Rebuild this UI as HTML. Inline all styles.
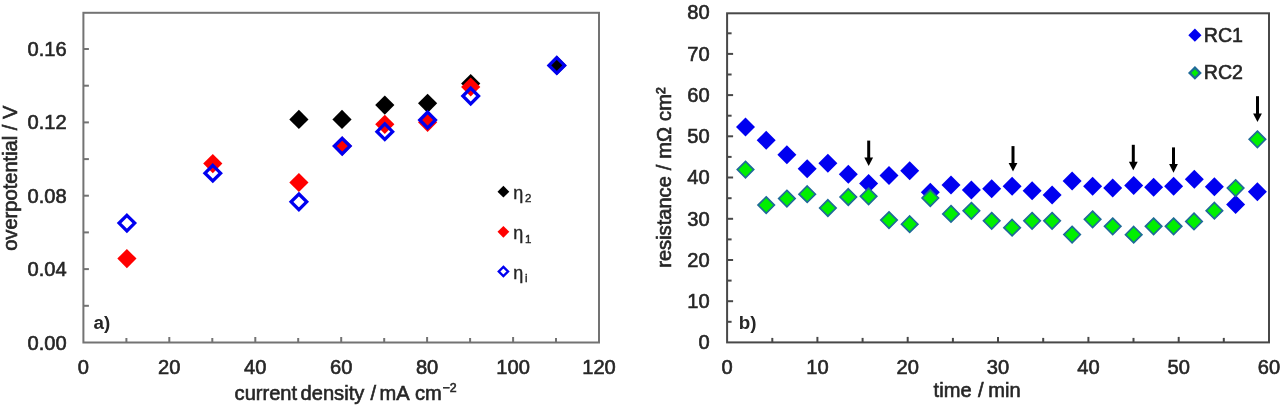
<!DOCTYPE html>
<html lang="en"><head><meta charset="utf-8"><title>Figure</title>
<style>html,body{margin:0;padding:0;background:#fff}svg{display:block;filter:blur(0.45px)}</style></head>
<body>
<svg width="1280" height="406" viewBox="0 0 1280 406" font-family='"Liberation Sans", Arial, Helvetica, sans-serif'>
<rect width="1280" height="406" fill="#fff"/>
<g stroke="#737373" stroke-width="2" fill="none">
<rect x="83.4" y="12.8" width="515.6" height="329.7"/>
<line x1="83.4" y1="305.8" x2="88.9" y2="305.8"/>
<line x1="83.4" y1="269.1" x2="88.9" y2="269.1"/>
<line x1="83.4" y1="232.4" x2="88.9" y2="232.4"/>
<line x1="83.4" y1="195.7" x2="88.9" y2="195.7"/>
<line x1="83.4" y1="159.1" x2="88.9" y2="159.1"/>
<line x1="83.4" y1="122.4" x2="88.9" y2="122.4"/>
<line x1="83.4" y1="85.7" x2="88.9" y2="85.7"/>
<line x1="83.4" y1="49.0" x2="88.9" y2="49.0"/>
<line x1="126.4" y1="342.5" x2="126.4" y2="338.0"/>
<line x1="169.3" y1="342.5" x2="169.3" y2="337.0"/>
<line x1="212.3" y1="342.5" x2="212.3" y2="338.0"/>
<line x1="255.3" y1="342.5" x2="255.3" y2="337.0"/>
<line x1="298.2" y1="342.5" x2="298.2" y2="338.0"/>
<line x1="341.2" y1="342.5" x2="341.2" y2="337.0"/>
<line x1="384.2" y1="342.5" x2="384.2" y2="338.0"/>
<line x1="427.1" y1="342.5" x2="427.1" y2="337.0"/>
<line x1="470.1" y1="342.5" x2="470.1" y2="338.0"/>
<line x1="513.1" y1="342.5" x2="513.1" y2="337.0"/>
<line x1="556.0" y1="342.5" x2="556.0" y2="338.0"/>
</g>
<g fill="#262626" stroke="#262626" stroke-width="0.6" font-size="20.1">
<text x="66.6" y="349.5" text-anchor="end">0.00</text>
<text x="66.6" y="276.1" text-anchor="end">0.04</text>
<text x="66.6" y="202.7" text-anchor="end">0.08</text>
<text x="66.6" y="129.4" text-anchor="end">0.12</text>
<text x="66.6" y="56.0" text-anchor="end">0.16</text>
<text x="83.4" y="374.2" text-anchor="middle">0</text>
<text x="169.3" y="374.2" text-anchor="middle">20</text>
<text x="255.3" y="374.2" text-anchor="middle">40</text>
<text x="341.2" y="374.2" text-anchor="middle">60</text>
<text x="427.1" y="374.2" text-anchor="middle">80</text>
<text x="513.1" y="374.2" text-anchor="middle">100</text>
<text x="599.0" y="374.2" text-anchor="middle">120</text>
<text y="399.6"><tspan x="234.6">current</tspan> <tspan x="300.6">density</tspan> <tspan x="370.6">/</tspan> <tspan x="379.6">mA</tspan> <tspan x="415">cm</tspan><tspan x="442.6" font-size="12.3" dy="-7.5">−2</tspan></text>
<text transform="translate(17.3,178.2) rotate(-90)" text-anchor="middle">overpotential / V</text>
<text x="93.5" y="329" font-weight="bold" font-size="18.8" stroke="none">a)</text>
</g>
<polygon points="298.9,109.8 308.5,119.4 298.9,129.0 289.3,119.4" fill="#000"/>
<polygon points="342.0,109.8 351.6,119.4 342.0,129.0 332.4,119.4" fill="#000"/>
<polygon points="384.8,95.5 394.4,105.1 384.8,114.7 375.2,105.1" fill="#000"/>
<polygon points="427.6,93.7 437.2,103.3 427.6,112.9 418.0,103.3" fill="#000"/>
<polygon points="470.7,74.0 480.3,83.6 470.7,93.2 461.1,83.6" fill="#000"/>
<polygon points="556.8,55.8 566.4,65.4 556.8,75.0 547.2,65.4" fill="#000"/>
<polygon points="126.9,249.0 136.5,258.6 126.9,268.2 117.3,258.6" fill="#f00"/>
<polygon points="212.8,154.0 222.4,163.6 212.8,173.2 203.2,163.6" fill="#f00"/>
<polygon points="298.9,172.9 308.5,182.5 298.9,192.1 289.3,182.5" fill="#f00"/>
<polygon points="342.2,136.5 351.8,146.1 342.2,155.7 332.6,146.1" fill="#f00"/>
<polygon points="384.8,114.7 394.4,124.3 384.8,133.9 375.2,124.3" fill="#f00"/>
<polygon points="427.6,112.7 437.2,122.3 427.6,131.9 418.0,122.3" fill="#f00"/>
<polygon points="470.7,77.4 480.3,87.0 470.7,96.6 461.1,87.0" fill="#f00"/>
<polygon points="126.9,215.3 134.7,223.1 126.9,230.9 119.1,223.1" fill="none" stroke="#0000f0" stroke-width="3.3"/>
<polygon points="212.8,165.4 220.6,173.2 212.8,181.0 205.0,173.2" fill="none" stroke="#0000f0" stroke-width="3.3"/>
<polygon points="298.9,194.0 306.7,201.8 298.9,209.6 291.1,201.8" fill="none" stroke="#0000f0" stroke-width="3.3"/>
<polygon points="342.2,138.3 350.0,146.1 342.2,153.9 334.4,146.1" fill="none" stroke="#0000f0" stroke-width="3.3"/>
<polygon points="384.8,123.9 392.6,131.7 384.8,139.5 377.0,131.7" fill="none" stroke="#0000f0" stroke-width="3.3"/>
<polygon points="427.6,112.2 435.4,120.0 427.6,127.8 419.8,120.0" fill="none" stroke="#0000f0" stroke-width="3.3"/>
<polygon points="470.7,88.2 478.5,96.0 470.7,103.8 462.9,96.0" fill="none" stroke="#0000f0" stroke-width="3.3"/>
<polygon points="556.8,57.6 564.6,65.4 556.8,73.2 549.0,65.4" fill="none" stroke="#0000f0" stroke-width="3.3"/>
<polygon points="503.4,185.8 509.3,191.7 503.4,197.6 497.5,191.7" fill="#000"/>
<polygon points="503.4,225.9 509.3,231.8 503.4,237.7 497.5,231.8" fill="#f00"/>
<polygon points="503.4,266.9 508.0,271.5 503.4,276.1 498.8,271.5" fill="none" stroke="#0000f0" stroke-width="2.4"/>
<g fill="#262626" stroke="#262626" stroke-width="0.4" font-size="18">
<text x="513.2" y="199.1">η<tspan x="525" font-size="11.5" dy="3.3">2</tspan></text>
<text x="513.2" y="239.3">η<tspan x="525" font-size="11.5" dy="3.3">1</tspan></text>
<text x="513.2" y="279.0">η<tspan x="525" font-size="11.5" dy="3.3">i</tspan></text>
</g>
<g stroke="#484848" stroke-width="2" fill="none">
<rect x="727.1" y="13.3" width="541.9" height="329.1"/>
<line x1="727.1" y1="321.8" x2="731.6" y2="321.8"/>
<line x1="727.1" y1="301.2" x2="733.1" y2="301.2"/>
<line x1="727.1" y1="280.6" x2="731.6" y2="280.6"/>
<line x1="727.1" y1="260.0" x2="733.1" y2="260.0"/>
<line x1="727.1" y1="239.4" x2="731.6" y2="239.4"/>
<line x1="727.1" y1="218.8" x2="733.1" y2="218.8"/>
<line x1="727.1" y1="198.2" x2="731.6" y2="198.2"/>
<line x1="727.1" y1="177.5" x2="733.1" y2="177.5"/>
<line x1="727.1" y1="156.9" x2="731.6" y2="156.9"/>
<line x1="727.1" y1="136.3" x2="733.1" y2="136.3"/>
<line x1="727.1" y1="115.7" x2="731.6" y2="115.7"/>
<line x1="727.1" y1="95.1" x2="733.1" y2="95.1"/>
<line x1="727.1" y1="74.5" x2="731.6" y2="74.5"/>
<line x1="727.1" y1="53.9" x2="733.1" y2="53.9"/>
<line x1="727.1" y1="33.3" x2="731.6" y2="33.3"/>
<line x1="772.3" y1="342.4" x2="772.3" y2="337.9"/>
<line x1="817.4" y1="342.4" x2="817.4" y2="336.9"/>
<line x1="862.6" y1="342.4" x2="862.6" y2="337.9"/>
<line x1="907.7" y1="342.4" x2="907.7" y2="336.9"/>
<line x1="952.9" y1="342.4" x2="952.9" y2="337.9"/>
<line x1="998.0" y1="342.4" x2="998.0" y2="336.9"/>
<line x1="1043.2" y1="342.4" x2="1043.2" y2="337.9"/>
<line x1="1088.4" y1="342.4" x2="1088.4" y2="336.9"/>
<line x1="1133.5" y1="342.4" x2="1133.5" y2="337.9"/>
<line x1="1178.7" y1="342.4" x2="1178.7" y2="336.9"/>
<line x1="1223.8" y1="342.4" x2="1223.8" y2="337.9"/>
</g>
<g fill="#262626" stroke="#262626" stroke-width="0.6" font-size="20.1">
<text x="709.6" y="349.1" text-anchor="end">0</text>
<text x="709.6" y="307.9" text-anchor="end">10</text>
<text x="709.6" y="266.7" text-anchor="end">20</text>
<text x="709.6" y="225.5" text-anchor="end">30</text>
<text x="709.6" y="184.2" text-anchor="end">40</text>
<text x="709.6" y="143.0" text-anchor="end">50</text>
<text x="709.6" y="101.8" text-anchor="end">60</text>
<text x="709.6" y="60.6" text-anchor="end">70</text>
<text x="709.6" y="19.4" text-anchor="end">80</text>
<text x="727.1" y="374.2" text-anchor="middle">0</text>
<text x="817.4" y="374.2" text-anchor="middle">10</text>
<text x="907.7" y="374.2" text-anchor="middle">20</text>
<text x="998.0" y="374.2" text-anchor="middle">30</text>
<text x="1088.4" y="374.2" text-anchor="middle">40</text>
<text x="1178.7" y="374.2" text-anchor="middle">50</text>
<text x="1269.0" y="374.2" text-anchor="middle">60</text>
<text y="397.3"><tspan x="933.6">time</tspan> <tspan x="978">/</tspan> <tspan x="988.2">min</tspan></text>
<text transform="translate(670.8,177.6) rotate(-90)" text-anchor="middle" word-spacing="0.4">resistance / mΩ cm²</text>
<text x="738.7" y="329" font-weight="bold" font-size="18.8" stroke="none">b)</text>
<text x="1203.8" y="41.6" font-size="19.6">RC1</text>
<text x="1203.8" y="79.4" font-size="19.6">RC2</text>
</g>
<polygon points="745.5,117.4 755.0,126.9 745.5,136.4 736.0,126.9" fill="#0000f0"/>
<polygon points="766.2,130.8 775.7,140.3 766.2,149.8 756.7,140.3" fill="#0000f0"/>
<polygon points="786.9,145.3 796.4,154.8 786.9,164.3 777.4,154.8" fill="#0000f0"/>
<polygon points="807.2,159.2 816.7,168.7 807.2,178.2 797.7,168.7" fill="#0000f0"/>
<polygon points="827.9,153.7 837.4,163.2 827.9,172.7 818.4,163.2" fill="#0000f0"/>
<polygon points="848.3,164.7 857.8,174.2 848.3,183.7 838.8,174.2" fill="#0000f0"/>
<polygon points="868.6,174.1 878.1,183.6 868.6,193.1 859.1,183.6" fill="#0000f0"/>
<polygon points="889.0,166.1 898.5,175.6 889.0,185.1 879.5,175.6" fill="#0000f0"/>
<polygon points="909.7,161.3 919.2,170.8 909.7,180.3 900.2,170.8" fill="#0000f0"/>
<polygon points="930.3,182.7 939.8,192.2 930.3,201.7 920.8,192.2" fill="#0000f0"/>
<polygon points="951.0,175.4 960.5,184.9 951.0,194.4 941.5,184.9" fill="#0000f0"/>
<polygon points="971.4,180.6 980.9,190.1 971.4,199.6 961.9,190.1" fill="#0000f0"/>
<polygon points="991.7,179.2 1001.2,188.7 991.7,198.2 982.2,188.7" fill="#0000f0"/>
<polygon points="1012.1,176.8 1021.6,186.3 1012.1,195.8 1002.6,186.3" fill="#0000f0"/>
<polygon points="1032.1,181.3 1041.6,190.8 1032.1,200.3 1022.6,190.8" fill="#0000f0"/>
<polygon points="1052.1,185.4 1061.6,194.9 1052.1,204.4 1042.6,194.9" fill="#0000f0"/>
<polygon points="1072.1,171.6 1081.6,181.1 1072.1,190.6 1062.6,181.1" fill="#0000f0"/>
<polygon points="1092.6,176.8 1102.1,186.3 1092.6,195.8 1083.1,186.3" fill="#0000f0"/>
<polygon points="1112.7,178.6 1122.2,188.1 1112.7,197.6 1103.2,188.1" fill="#0000f0"/>
<polygon points="1133.7,176.0 1143.2,185.5 1133.7,195.0 1124.2,185.5" fill="#0000f0"/>
<polygon points="1153.6,177.7 1163.1,187.2 1153.6,196.7 1144.1,187.2" fill="#0000f0"/>
<polygon points="1173.6,176.8 1183.1,186.3 1173.6,195.8 1164.1,186.3" fill="#0000f0"/>
<polygon points="1194.3,169.7 1203.8,179.2 1194.3,188.7 1184.8,179.2" fill="#0000f0"/>
<polygon points="1214.4,177.2 1223.9,186.7 1214.4,196.2 1204.9,186.7" fill="#0000f0"/>
<polygon points="1235.6,194.9 1245.1,204.4 1235.6,213.9 1226.1,204.4" fill="#0000f0"/>
<polygon points="1257.4,182.3 1266.9,191.8 1257.4,201.3 1247.9,191.8" fill="#0000f0"/>
<polygon points="745.5,161.4 753.7,169.6 745.5,177.8 737.3,169.6" fill="#00f000" stroke="#1f6a98" stroke-width="1.7"/>
<polygon points="766.2,196.9 774.4,205.1 766.2,213.3 758.0,205.1" fill="#00f000" stroke="#1f6a98" stroke-width="1.7"/>
<polygon points="786.9,190.4 795.1,198.6 786.9,206.8 778.7,198.6" fill="#00f000" stroke="#1f6a98" stroke-width="1.7"/>
<polygon points="807.2,186.0 815.4,194.2 807.2,202.4 799.0,194.2" fill="#00f000" stroke="#1f6a98" stroke-width="1.7"/>
<polygon points="827.9,199.8 836.1,208.0 827.9,216.2 819.7,208.0" fill="#00f000" stroke="#1f6a98" stroke-width="1.7"/>
<polygon points="848.3,188.8 856.5,197.0 848.3,205.2 840.1,197.0" fill="#00f000" stroke="#1f6a98" stroke-width="1.7"/>
<polygon points="868.6,188.1 876.8,196.3 868.6,204.5 860.4,196.3" fill="#00f000" stroke="#1f6a98" stroke-width="1.7"/>
<polygon points="889.0,211.9 897.2,220.1 889.0,228.3 880.8,220.1" fill="#00f000" stroke="#1f6a98" stroke-width="1.7"/>
<polygon points="909.7,216.0 917.9,224.2 909.7,232.4 901.5,224.2" fill="#00f000" stroke="#1f6a98" stroke-width="1.7"/>
<polygon points="930.3,189.8 938.5,198.0 930.3,206.2 922.1,198.0" fill="#00f000" stroke="#1f6a98" stroke-width="1.7"/>
<polygon points="951.0,205.7 959.2,213.9 951.0,222.1 942.8,213.9" fill="#00f000" stroke="#1f6a98" stroke-width="1.7"/>
<polygon points="971.4,202.6 979.6,210.8 971.4,219.0 963.2,210.8" fill="#00f000" stroke="#1f6a98" stroke-width="1.7"/>
<polygon points="991.7,212.6 999.9,220.8 991.7,229.0 983.5,220.8" fill="#00f000" stroke="#1f6a98" stroke-width="1.7"/>
<polygon points="1012.1,219.5 1020.3,227.7 1012.1,235.9 1003.9,227.7" fill="#00f000" stroke="#1f6a98" stroke-width="1.7"/>
<polygon points="1032.1,212.6 1040.3,220.8 1032.1,229.0 1023.9,220.8" fill="#00f000" stroke="#1f6a98" stroke-width="1.7"/>
<polygon points="1052.1,212.6 1060.3,220.8 1052.1,229.0 1043.9,220.8" fill="#00f000" stroke="#1f6a98" stroke-width="1.7"/>
<polygon points="1072.1,226.4 1080.3,234.6 1072.1,242.8 1063.9,234.6" fill="#00f000" stroke="#1f6a98" stroke-width="1.7"/>
<polygon points="1092.6,211.1 1100.8,219.3 1092.6,227.5 1084.4,219.3" fill="#00f000" stroke="#1f6a98" stroke-width="1.7"/>
<polygon points="1112.7,218.1 1120.9,226.3 1112.7,234.5 1104.5,226.3" fill="#00f000" stroke="#1f6a98" stroke-width="1.7"/>
<polygon points="1133.7,226.5 1141.9,234.7 1133.7,242.9 1125.5,234.7" fill="#00f000" stroke="#1f6a98" stroke-width="1.7"/>
<polygon points="1153.6,218.1 1161.8,226.3 1153.6,234.5 1145.4,226.3" fill="#00f000" stroke="#1f6a98" stroke-width="1.7"/>
<polygon points="1173.6,218.1 1181.8,226.3 1173.6,234.5 1165.4,226.3" fill="#00f000" stroke="#1f6a98" stroke-width="1.7"/>
<polygon points="1194.0,213.2 1202.2,221.4 1194.0,229.6 1185.8,221.4" fill="#00f000" stroke="#1f6a98" stroke-width="1.7"/>
<polygon points="1214.4,202.5 1222.6,210.7 1214.4,218.9 1206.2,210.7" fill="#00f000" stroke="#1f6a98" stroke-width="1.7"/>
<polygon points="1235.6,179.9 1243.8,188.1 1235.6,196.3 1227.4,188.1" fill="#00f000" stroke="#1f6a98" stroke-width="1.7"/>
<polygon points="1257.4,131.1 1265.6,139.3 1257.4,147.5 1249.2,139.3" fill="#00f000" stroke="#1f6a98" stroke-width="1.7"/>
<polygon points="1194.9,28.6 1201.5,35.2 1194.9,41.8 1188.3,35.2" fill="#0000f0"/>
<polygon points="1194.9,67.6 1200.2,72.9 1194.9,78.2 1189.6,72.9" fill="#00f000" stroke="#1f6a98" stroke-width="2.3"/>
<path d="M868.7 140.6 V160.0" stroke="#000" stroke-width="3" fill="none"/>
<path d="M864.3000000000001 157.4 L868.7 166.0 L873.1 157.4 Z" fill="#000"/>
<path d="M1013.0 146.1 V165.6" stroke="#000" stroke-width="3" fill="none"/>
<path d="M1008.6 163.0 L1013.0 171.6 L1017.4 163.0 Z" fill="#000"/>
<path d="M1133.3 144.8 V164.3" stroke="#000" stroke-width="3" fill="none"/>
<path d="M1128.8999999999999 161.70000000000002 L1133.3 170.3 L1137.7 161.70000000000002 Z" fill="#000"/>
<path d="M1173.5 147.4 V166.7" stroke="#000" stroke-width="3" fill="none"/>
<path d="M1169.1 164.1 L1173.5 172.7 L1177.9 164.1 Z" fill="#000"/>
<path d="M1257.5 96.2 V116.1" stroke="#000" stroke-width="3" fill="none"/>
<path d="M1253.1 113.5 L1257.5 122.1 L1261.9 113.5 Z" fill="#000"/>
</svg>
</body></html>
